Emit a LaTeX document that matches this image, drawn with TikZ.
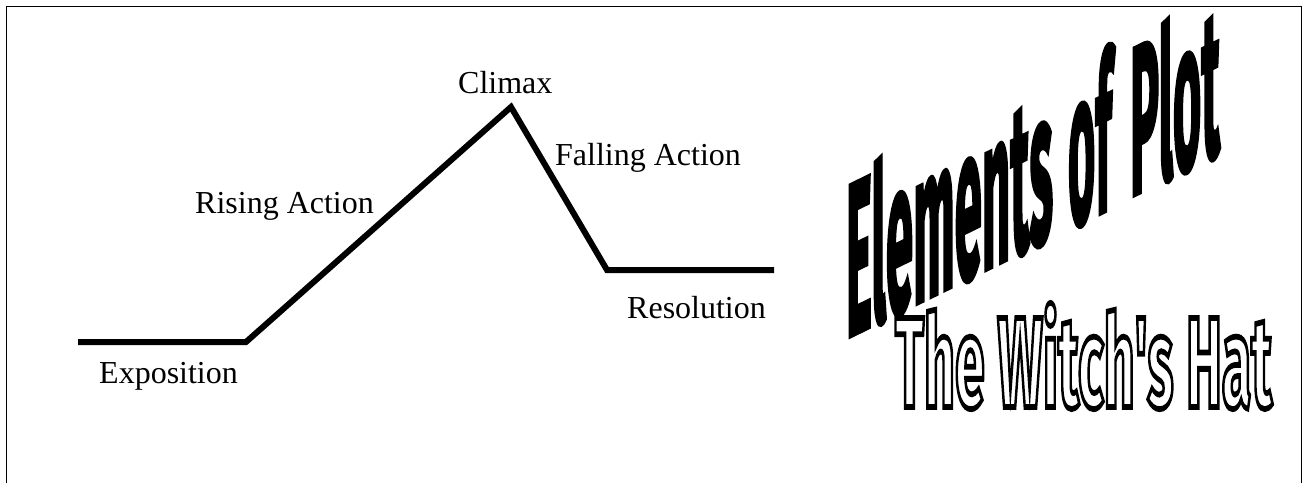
\documentclass[tikz,border=0pt]{standalone}
\usepackage{fontspec}
\setmainfont{Liberation Serif}
\newfontfamily\impactfont{Fira Sans}[BoldFeatures={FakeBold=2.5}]
\newfontfamily\hatfont{Fira Sans}
\usepackage{graphicx}
\newcommand{\myfitbox}[3]{\resizebox{#1}{#2}{\raisebox{0pt}[\fontcharht\font`E][0pt]{#3}}}
\newcommand{\hattext}{\hatfont\bfseries\special{pdf:literal direct 1 Tr 0.45 w}\myfitbox{377pt}{89pt}{The Witch\textquotesingle s Hat}\special{pdf:literal direct 0 Tr}}
\begin{document}
\begin{tikzpicture}[x=1pt,y=-1pt,
  lbl/.style={anchor=base west, inner sep=0pt, font=\fontsize{32}{38}\selectfont},
  plotline/.style={line width=6pt, line join=miter},
  frame/.style={line width=1.3pt},
  wordart/.style={anchor=base west, inner sep=0pt, outer sep=0pt, transform shape, yslant=0.49},
  hat/.style={anchor=base west, inner sep=0pt, outer sep=0pt}]
\useasboundingbox (0,0) rectangle (1309,483);
\draw[frame] (6.5,483) -- (6.5,6.5) -- (1301.5,6.5) -- (1301.5,483);

\coordinate (p0) at (78,342);
\coordinate (p1) at (246,342);
\coordinate (p2) at (511,107);
\coordinate (p3) at (607,270);
\coordinate (p4) at (774,270);
\draw[plotline] (p0) -- (p1) -- (p2) -- (p3) -- (p4);

\node[lbl] (climax) at (458,93) {Climax};
\node[lbl] (falling) at (555,165) {Falling Action};
\node[lbl] (rising) at (195,213) {Rising Action};
\node[lbl] (resolution) at (627,318) {Resolution};
\node[lbl] (exposition) at (99,383) {Exposition};

\node[wordart] (elements) at (846,338) {\impactfont\bfseries\myfitbox{207pt}{150pt}{Elements}};
\node[wordart] (of) at (1068,229) {\impactfont\bfseries\myfitbox{44pt}{150pt}{of}};
\node[wordart] (plot) at (1130,197) {\impactfont\bfseries\myfitbox{90pt}{146pt}{Plot}};

\node[hat] (hat) at (895,407) {\hattext};
\end{tikzpicture}
\end{document}
